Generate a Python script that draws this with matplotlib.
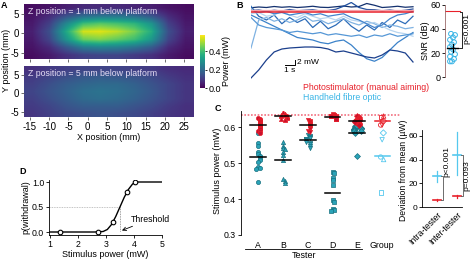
import numpy as np
import matplotlib.pyplot as plt
from matplotlib.lines import Line2D

plt.rcParams['font.family'] = ['Liberation Sans', 'DejaVu Sans']
plt.rcParams['font.size'] = 6
plt.rcParams['axes.unicode_minus'] = False
plt.rcParams['axes.linewidth'] = 0.6
plt.rcParams['xtick.major.width'] = 0.6
plt.rcParams['ytick.major.width'] = 0.6
plt.rcParams['xtick.major.size'] = 2
plt.rcParams['ytick.major.size'] = 2
plt.rcParams['xtick.major.pad'] = 1.5
plt.rcParams['ytick.major.pad'] = 1.5

RED = '#e8202a'
CYAN = '#3ab5e6'

# ---------------- data ----------------
# A: power maps (mW), rows from y=+7.5 down to y=-6.5, columns x=-16.5..27.5
power_z1 = [
    [0.02, 0.03, 0.05, 0.07, 0.07, 0.07, 0.06, 0.05, 0.03, 0.02],
    [0.03, 0.07, 0.14, 0.20, 0.22, 0.22, 0.20, 0.15, 0.07, 0.03],
    [0.04, 0.11, 0.27, 0.40, 0.43, 0.41, 0.38, 0.30, 0.11, 0.04],
    [0.05, 0.14, 0.35, 0.54, 0.55, 0.52, 0.46, 0.36, 0.14, 0.05],
    [0.04, 0.12, 0.30, 0.45, 0.47, 0.44, 0.40, 0.31, 0.12, 0.04],
    [0.03, 0.07, 0.16, 0.24, 0.26, 0.25, 0.22, 0.17, 0.07, 0.03],
    [0.02, 0.04, 0.08, 0.11, 0.12, 0.12, 0.10, 0.08, 0.04, 0.02],
]
power_z5 = [
    [0.08, 0.10, 0.11, 0.12, 0.12, 0.12, 0.11, 0.10, 0.08, 0.07],
    [0.10, 0.12, 0.14, 0.16, 0.17, 0.16, 0.15, 0.13, 0.10, 0.08],
    [0.11, 0.14, 0.17, 0.19, 0.20, 0.20, 0.18, 0.15, 0.12, 0.09],
    [0.12, 0.15, 0.18, 0.21, 0.22, 0.21, 0.19, 0.16, 0.12, 0.09],
    [0.11, 0.14, 0.17, 0.20, 0.21, 0.20, 0.18, 0.15, 0.12, 0.09],
    [0.10, 0.12, 0.15, 0.17, 0.17, 0.17, 0.15, 0.13, 0.10, 0.08],
    [0.09, 0.11, 0.13, 0.14, 0.15, 0.14, 0.13, 0.11, 0.09, 0.08],
]
map_x_ticks = [-15, -10, -5, 0, 5, 10, 15, 20, 25]
map_y_ticks = [-5, 0, 5]

# B: handheld traces (mW, offset), photostimulator level
trace_time_end = 16.2
handheld_traces = [
    [28.9, 29.2, 29.0, 29.4, 29.1, 29.3, 29.0, 29.2, 29.5, 29.1, 29.0, 29.3, 29.6, 29.2, 29.4, 30.6, 29.9, 29.0, 29.2, 29.5, 29.1, 29.3],
    [27.8, 28.0, 27.5, 27.9, 27.6, 28.2, 27.7, 27.9, 28.1, 27.6, 27.8, 28.3, 29.5, 31.0, 29.0, 28.2, 28.1, 27.7, 28.0, 27.6, 27.9, 28.4],
    [29.5, 25.5, 24.0, 26.0, 22.5, 25.0, 23.0, 24.5, 21.0, 23.5, 20.5, 22.0, 24.5, 21.5, 19.5, 22.0, 20.0, 23.0, 21.0, 24.0, 22.5, 25.5],
    [26.0, 24.5, 23.0, 21.5, 20.0, 18.5, 17.0, 16.5, 16.0, 15.0, 14.5, 15.5, 16.0, 14.0, 11.0, 8.5, 7.5, 9.0, 12.0, 15.0, 17.0, 19.0],
    [0.8, 4.0, 8.0, 11.2, 12.4, 12.8, 13.0, 13.2, 13.2, 13.0, 12.4, 11.2, 11.6, 10.8, 10.0, 9.2, 8.8, 10.0, 12.0, 11.6, 10.8, 7.2],
    [12.8, 24.0, 25.0, 23.5, 24.5, 23.0, 24.0, 25.5, 23.5, 24.0, 22.5, 23.5, 24.5, 23.0, 22.0, 23.5, 22.5, 21.0, 22.0, 21.5, 20.5, 21.0],
    [26.5, 27.0, 25.5, 26.0, 27.5, 26.0, 25.0, 26.5, 25.5, 24.5, 25.0, 24.0, 25.5, 24.0, 23.5, 22.5, 23.0, 21.5, 20.0, 19.0, 18.5, 17.5],
    [25.0, 22.0, 21.0, 20.5, 20.0, 19.0, 19.5, 19.0, 18.5, 19.0, 18.0, 18.5, 18.0, 17.5, 18.0, 17.0, 18.0, 17.5, 18.5, 17.5, 18.0, 18.5],
    [28.0, 27.0, 27.5, 26.5, 27.0, 26.0, 26.5, 27.0, 26.0, 26.5, 25.5, 26.0, 26.5, 25.0, 24.0, 22.5, 21.0, 22.0, 24.5, 26.0, 26.5, 27.5],
]
trace_colors = ['#13306e', '#1f4f9e', '#2c6cb8', '#3b82c9', '#1b3f8c',
                '#7fb2e2', '#b7d5f0', '#5597d6', '#4383cc']
photostim_level = 27.2
photostim_level2 = 27.8

snr_photostim = 55
snr_handheld = [36, 35, 33, 31, 29, 27, 25, 23, 21, 19, 17, 15, 13, 13]
snr_handheld_mean = 24
snr_handheld_err = 3.5

# C: stimulus power per tester (mW)
testers = ['A', 'B', 'C', 'D', 'E', 'Group']
markers = ['o', '^', 'v', 's', 'D']
photo_power = [
    [0.625, 0.622, 0.620, 0.618, 0.616, 0.614, 0.612, 0.610, 0.608, 0.606, 0.604, 0.602, 0.600, 0.598, 0.596, 0.594, 0.590, 0.588, 0.585],
    [0.641, 0.638, 0.636, 0.634, 0.633, 0.632, 0.631, 0.630, 0.629, 0.628, 0.627, 0.626, 0.624, 0.622, 0.620],
    [0.620, 0.617, 0.614, 0.612, 0.610, 0.608, 0.606, 0.604, 0.602, 0.600, 0.597, 0.594, 0.590, 0.587],
    [0.637, 0.635, 0.633, 0.632, 0.631, 0.630, 0.629, 0.628, 0.627, 0.626, 0.625, 0.624, 0.623, 0.622],
    [0.632, 0.629, 0.626, 0.624, 0.622, 0.620, 0.618, 0.617, 0.616, 0.614, 0.612, 0.610, 0.608, 0.606],
]
photo_means = [0.606, 0.631, 0.606, 0.628, 0.617]
photo_group_mean = 0.618
hand_power = [
    [0.583, 0.556, 0.548, 0.530, 0.524, 0.520, 0.515, 0.510, 0.502, 0.490, 0.486, 0.485, 0.448],
    [0.558, 0.548, 0.542, 0.538, 0.530, 0.522, 0.508, 0.455, 0.450, 0.445],
    [0.579, 0.576, 0.573, 0.570, 0.568, 0.566, 0.563, 0.560, 0.556, 0.552, 0.547, 0.543],
    [0.476, 0.472, 0.458, 0.452, 0.440, 0.398, 0.393, 0.372, 0.370, 0.368],
    [0.607, 0.604, 0.602, 0.600, 0.599, 0.598, 0.596, 0.595, 0.594, 0.593, 0.592, 0.590, 0.588, 0.585, 0.520],
]
hand_means = [0.517, 0.510, 0.565, 0.418, 0.584]
hand_group_mean = 0.519
target_power = 0.634

# C inset: deviation from mean (uW)
dev_labels = ['Intra-tester', 'Inter-tester']
dev_photo = [6, 9]
dev_photo_err = [1, 1.5]
dev_hand = [26, 44]
dev_hand_lo = [21, 27]
dev_hand_hi = [30, 63]
dev_pvals = ['p<0.001', 'p=0.093']

# D: psychometric curve
d_power = [1.35, 2.7, 3.25, 3.75, 4.05]
d_pwith = [0.0, 0.0, 0.2, 0.8, 1.0]
fit_power = [1.0, 2.6, 2.9, 3.05, 3.2, 3.35, 3.5, 3.65, 3.8, 3.95, 4.1, 4.3, 5.0]
fit_pwith = [0.0, 0.0, 0.01, 0.05, 0.15, 0.31, 0.5, 0.69, 0.85, 0.96, 1.0, 1.0, 1.0]
threshold = 3.5

# ---------------- figure ----------------
W, H = 474, 260
fig = plt.figure(figsize=(W / 100, H / 100), dpi=100)


def px_axes(x0, y0, x1, y1):
    return fig.add_axes([x0 / W, 1 - y1 / H, (x1 - x0) / W, (y1 - y0) / H])


def ftext(x, y, s, **kw):
    return fig.text(x / W, 1 - y / H, s, **kw)


# ---- A ----
extent = (-16.5, 27.5, -6.5, 7.5)
titles = ['Z position = 1 mm below platform', 'Z position = 5 mm below platform']
for k, (data, box) in enumerate([(power_z1, (24, 4, 194, 59)), (power_z5, (24, 66, 194, 117))]):
    ax = px_axes(*box)
    im = ax.imshow(np.array(data), cmap='viridis', vmin=0, vmax=0.58, extent=extent,
                   aspect='auto', interpolation='bilinear')
    ax.set_xticks(map_x_ticks)
    ax.set_yticks(map_y_ticks)
    ax.tick_params(labelsize=7, length=2, color='#555555')
    if k == 0:
        ax.set_xticklabels([])
    for s in ax.spines.values():
        s.set_visible(False)
    ax.text(0.024, 0.95, titles[k], transform=ax.transAxes, color='#e4dcf4',
            fontsize=6.3, va='top', ha='left')
ax.set_xlabel('X position (mm)', fontsize=6.5, labelpad=1)
ftext(7, 60, 'Y position (mm)', rotation=90, ha='center', va='center', fontsize=6.5)

cax = px_axes(200, 35, 205, 88)
cb = fig.colorbar(im, cax=cax, ticks=[0, 0.2, 0.4])
cb.ax.set_yticklabels(['0.0', '0.2', '0.4'])
cb.ax.tick_params(labelsize=6.5, length=1.5, pad=1)
cb.outline.set_visible(False)
cb.set_label('Power (mW)', fontsize=6.5, labelpad=1)

# ---- B ----
axb = px_axes(251, 2, 416, 80)
t = np.linspace(0, trace_time_end, len(handheld_traces[0]))
for tr, col in zip(handheld_traces, trace_colors):
    axb.plot(t, tr, color=col, lw=0.9)
axb.plot([0, trace_time_end], [photostim_level2, photostim_level2], color='#f4a0a8', lw=0.9)
axb.plot([0, trace_time_end], [photostim_level, photostim_level], color=RED, lw=1.1)
axb.plot([3.4, 4.4, 4.4], [6, 6, 8], color='black', lw=0.7)
axb.text(4.6, 7, '2 mW', fontsize=6, va='center', ha='left')
axb.text(3.9, 5.2, '1 s', fontsize=6, va='top', ha='center')
axb.set_xlim(0, 16.5)
axb.set_ylim(0, 31.2)
axb.axis('off')

axs = px_axes(445, 5, 472, 77)
axs.set_xlim(0, 27)
axs.set_ylim(0, 60)
snr_x = [6, 10, 8, 5, 9, 7, 5, 8, 6, 10, 5, 9, 7, 5]
axs.scatter(snr_x, snr_handheld, s=12, facecolor='none', edgecolor=CYAN, lw=0.7, zorder=3)
axs.plot([2, 13], [snr_handheld_mean] * 2, color='black', lw=1, zorder=4)
axs.plot([7.5, 7.5], [snr_handheld_mean - snr_handheld_err, snr_handheld_mean + snr_handheld_err],
         color='black', lw=0.8, zorder=4)
axs.plot([0, 15], [snr_photostim] * 2, color=RED, lw=0.8)
axs.plot([15, 16.5, 16.5, 13.5], [snr_photostim - 1, snr_photostim - 1, snr_handheld_mean, snr_handheld_mean],
         color='black', lw=0.6)
axs.text(21.5, 40, 'p<0.001', rotation=90, fontsize=6, ha='center', va='center', clip_on=False)
axs.set_yticks([0, 20, 40, 60])
axs.set_xticks([])
for s in ['top', 'right', 'bottom']:
    axs.spines[s].set_visible(False)
axs.spines['left'].set_color('#9a6a6a')
axs.tick_params(labelsize=6.5)
ftext(426, 41, 'SNR (dB)', rotation=90, ha='center', va='center', fontsize=6.5)

ftext(303, 88, 'Photostimulator (manual aiming)', color=RED, fontsize=6.3, va='center')
ftext(303, 97, 'Handheld fibre optic', color=CYAN, fontsize=6.3, va='center')

# ---- C ----
def swarm(vals, step=0.075, tol=0.006):
    offs, placed = [], []
    for v in vals:
        n = sum(1 for p in placed if abs(p - v) < tol)
        k = (n + 1) // 2 * (1 if n % 2 else -1)
        offs.append(k * step)
        placed.append(v)
    return np.array(offs)


axc = px_axes(241, 111, 400, 235)
axc.axhline(target_power, color='#f27080', lw=1.2, ls=(0, (1, 1)), zorder=1)
for i in range(5):
    hv = np.array(hand_power[i])
    axc.scatter(i + swarm(hv), hv, marker=markers[i], s=9, facecolor='#2aa3b8',
                edgecolor='#17707f', lw=0.5, zorder=3)
    pv = np.array(photo_power[i])
    axc.scatter(i + swarm(pv, tol=0.004), pv, marker=markers[i], s=9, facecolor='#c8102e',
                edgecolor='#e8202a', lw=0.5, zorder=3)
    axc.plot([i - 0.32, i + 0.32], [hand_means[i]] * 2, color='black', lw=1.1, zorder=4)
    axc.plot([i - 0.32, i + 0.32], [photo_means[i]] * 2, color='black', lw=1.1, zorder=4)
g = 5
g_off = [-0.06, 0.06, 0.0, -0.04, 0.05]
for i in range(5):
    axc.scatter(g + g_off[i], hand_means[i], marker=markers[i], s=10, facecolor='none',
                edgecolor='#55c8ee', lw=0.6, zorder=3)
    axc.scatter(g + g_off[i], photo_means[i], marker=markers[i], s=10, facecolor='none',
                edgecolor=RED, lw=0.6, zorder=3)
axc.plot([g - 0.3, g + 0.3], [hand_group_mean] * 2, color='#55c8ee', lw=1.1, zorder=4)
axc.plot([g - 0.3, g + 0.3], [photo_group_mean] * 2, color=RED, lw=1.1, zorder=4)
axc.set_xlim(-0.69, 5.72)
axc.set_ylim(0.3, 0.645)
axc.set_yticks([0.3, 0.4, 0.5, 0.6])
axc.set_xticks(range(6))
axc.set_xticklabels(testers)
axc.tick_params(axis='x', length=0, pad=4)
axc.tick_params(labelsize=6.3)
for s in ['top', 'right', 'bottom']:
    axc.spines[s].set_visible(False)
fig.add_artist(Line2D([245 / W, 362 / W], [1 - 249 / H] * 2, color='black', lw=0.6))
ftext(304, 256, 'Tester', ha='center', va='center', fontsize=6.5)
ftext(218, 171, 'Stimulus power (mW)', rotation=90, ha='center', va='center', fontsize=6.5)

axd2 = px_axes(422, 130, 470, 207)
xs = np.arange(2)
for i in xs:
    axd2.plot([i, i], [dev_hand_lo[i], dev_hand_hi[i]], color='#55c8ee', lw=0.9)
    axd2.plot([i - 0.2, i + 0.2], [dev_hand[i]] * 2, color='#55c8ee', lw=1.2)
    axd2.plot([i, i], [dev_photo[i] - dev_photo_err[i], dev_photo[i] + dev_photo_err[i]], color=RED, lw=0.9)
    axd2.plot([i - 0.2, i + 0.2], [dev_photo[i]] * 2, color=RED, lw=1.2)
    bx = i + 0.3
    axd2.plot([i + 0.22, bx, bx, i + 0.22], [dev_hand[i], dev_hand[i], dev_photo[i], dev_photo[i]],
              color='#555555', lw=0.6)
    axd2.text(i + 0.5, (dev_hand[i] + dev_photo[i]) / 2 + (22 if i == 0 else 0), dev_pvals[i],
              rotation=90, fontsize=6, ha='center', va='center', clip_on=False)
axd2.set_xlim(-0.75, 1.65)
axd2.set_ylim(0, 65)
axd2.set_yticks([0, 20, 40, 60])
axd2.set_xticks(xs)
axd2.set_xticklabels(dev_labels, rotation=45, ha='right', rotation_mode='anchor')
axd2.tick_params(axis='x', length=0, pad=2)
axd2.tick_params(axis='y', labelsize=6, pad=1)
axd2.tick_params(axis='x', labelsize=6.3)
for s in ['top', 'right']:
    axd2.spines[s].set_visible(False)
axd2.spines['bottom'].set_bounds(-0.75, 1.25)
ftext(404, 170, 'Deviation from mean (µW)', rotation=90, ha='center', va='center', fontsize=6.2)

# ---- D ----
axd = px_axes(49, 180, 162, 235)
axd.plot([1, threshold], [0.5, 0.5], color='#b0b0b0', lw=0.6, ls=(0, (1, 1)))
axd.plot([threshold, threshold], [0.5, 0], color='#808080', lw=0.6, ls=(0, (1, 1)))
axd.plot(fit_power, fit_pwith, color='black', lw=1)
axd.plot(d_power, d_pwith, 'o', ms=3.3, mfc='white', mec='black', mew=0.8)
axd.annotate('Threshold', xy=(3.57, 0.03), xytext=(3.9, 0.26), fontsize=6.3, va='center',
             ha='left', arrowprops=dict(arrowstyle='->', lw=0.6, shrinkA=0, shrinkB=0))
axd.set_xlim(0.97, 5)
axd.set_ylim(-0.06, 1.04)
axd.set_xticks([1, 2, 3, 4, 5])
axd.set_yticks([0, 0.5, 1.0])
axd.set_yticklabels(['0.0', '0.5', '1.0'])
axd.tick_params(labelsize=6.3)
for s in ['top', 'right']:
    axd.spines[s].set_visible(False)
axd.set_xlabel('Stimulus power (mW)', fontsize=6.5, labelpad=0.5)
axd.set_ylabel('p(withdrawal)', fontsize=6.5, labelpad=1)

# panel letters
for lab, x, y in [('A', 1, 5), ('B', 236, 5), ('C', 215, 108), ('D', 19, 172)]:
    ftext(x, y, lab, fontsize=6.5, fontweight='bold', ha='left', va='center')

fig.savefig('out.png', dpi=100)
